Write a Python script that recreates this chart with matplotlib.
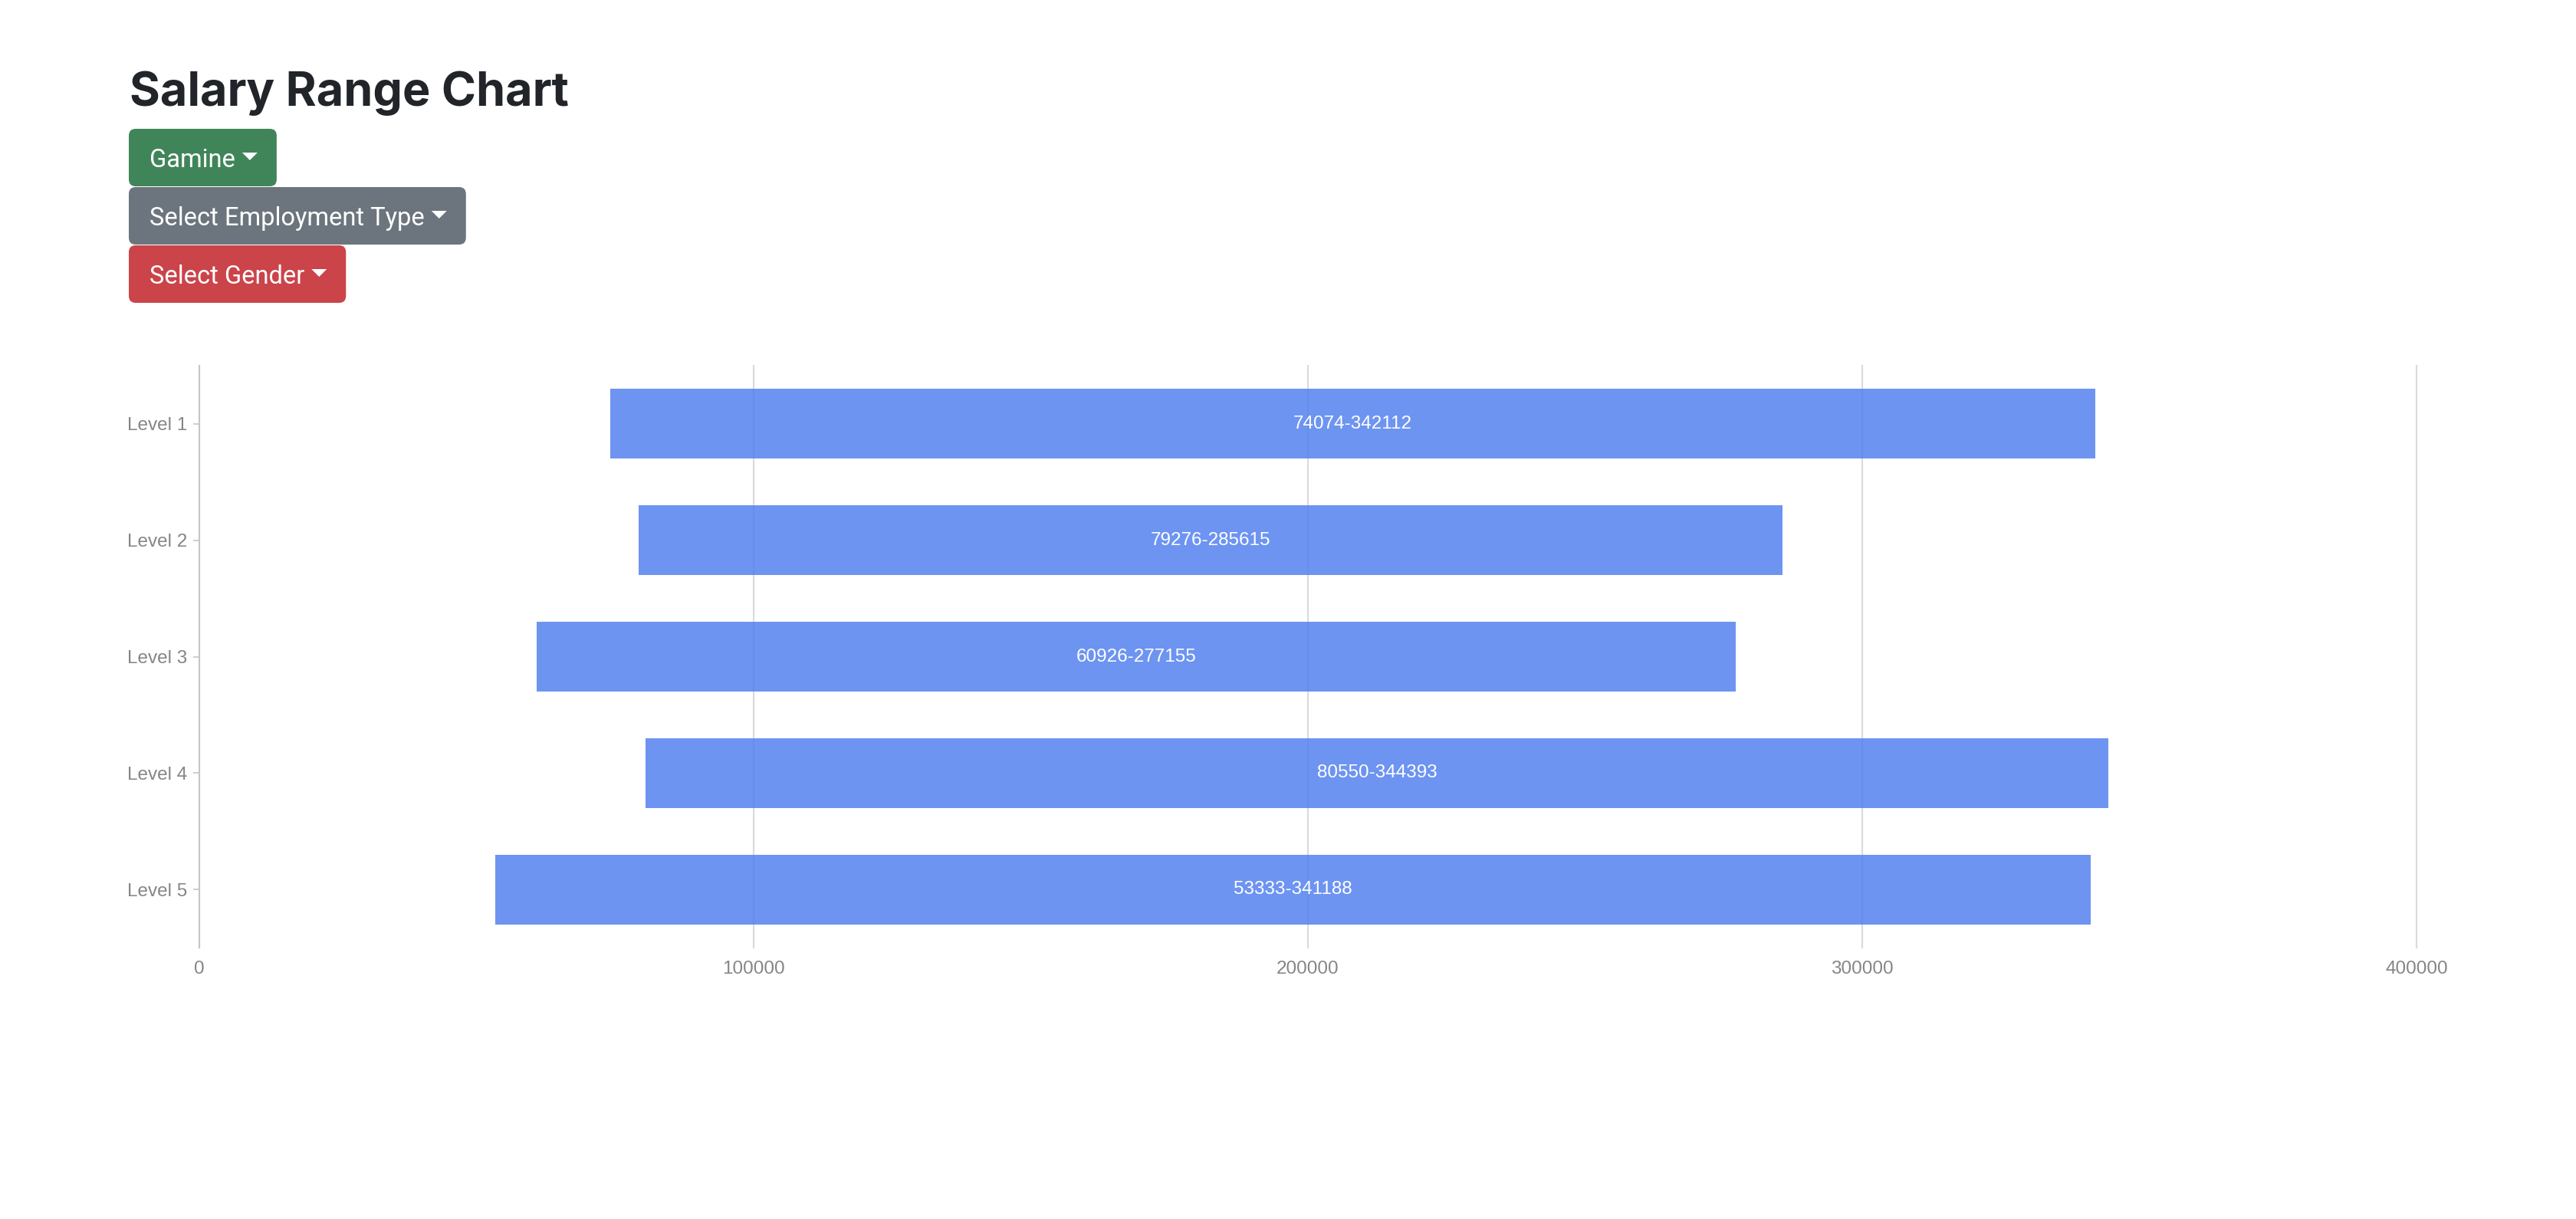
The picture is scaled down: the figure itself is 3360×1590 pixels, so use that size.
import numpy as np
import matplotlib
matplotlib.use("Agg")
import matplotlib.pyplot as plt
from matplotlib.patches import FancyBboxPatch, Polygon

# data
levels = ["Level 1", "Level 2", "Level 3", "Level 4", "Level 5"]
salary_min = [74074, 79276, 60926, 80550, 53333]
salary_max = [342112, 285615, 277155, 344393, 341188]
x_ticks = [0, 100000, 200000, 300000, 400000]

title = "Salary Range Chart"
buttons = ["Gamine", "Select Employment Type", "Select Gender"]
button_colors = ["#408559", "#6c757d", "#cb444a"]

W, H = 3360, 1590
fig = plt.figure(figsize=(W / 100, H / 100), dpi=100)
fig.patch.set_facecolor("white")

# header (title + dropdown buttons), drawn in pixel coords
hdr = fig.add_axes([0, 0, 1, 1])
hdr.set_xlim(0, W)
hdr.set_ylim(H, 0)
hdr.axis("off")

hdr.text(169, 138, title, fontsize=44, fontweight="bold", family="Inter",
         color="#212529", va="baseline", ha="left")

renderer = fig.canvas.get_renderer()
top = 168
for name, col in zip(buttons, button_colors):
    t = hdr.text(195, top + 50, name, fontsize=23.5, family="Roboto",
                 color="white", va="baseline", ha="left", zorder=3)
    bb = t.get_window_extent(renderer)
    cx = bb.x1 + 9
    hdr.add_patch(Polygon([[cx, top + 31], [cx + 20, top + 31], [cx + 10, top + 41]],
                          closed=True, fc="white", ec="none", zorder=3))
    right = cx + 20 + 25
    hdr.add_patch(FancyBboxPatch((168, top), right - 168, 75,
                                 boxstyle="round,pad=0,rounding_size=9",
                                 fc=col, ec="none", zorder=2))
    top += 76

# the chart itself
ax = fig.add_axes([260 / W, 1 - 1236 / H, (3152 - 260) / W, (1236 - 477) / H])
y = np.arange(len(levels))
widths = np.array(salary_max) - np.array(salary_min)
ax.barh(y, widths, left=salary_min, height=0.6,
        color=(83 / 255, 129 / 255, 239 / 255, 0.85), zorder=2)

for i in range(len(levels)):
    ax.text((salary_min[i] + salary_max[i]) / 2, y[i],
            "%d-%d" % (salary_min[i], salary_max[i]),
            ha="center", va="center", color="white", fontsize=17.5,
            family="Liberation Sans", zorder=3)

ax.set_xlim(0, 400000)
ax.set_ylim(len(levels) - 0.5, -0.5)
ax.set_xticks(x_ticks)
ax.set_xticklabels([str(v) for v in x_ticks], family="Liberation Sans")
ax.set_yticks(y)
ax.set_yticklabels(levels, family="Liberation Sans")

ax.grid(axis="x", color="#dadada", linewidth=1.5, zorder=1)
ax.grid(axis="y", visible=False)
ax.set_axisbelow(True)
for gl in ax.get_xgridlines():
    gl.set_clip_on(False)

for s in ["top", "right", "bottom"]:
    ax.spines[s].set_visible(False)
ax.spines["left"].set_color("#c6c6c6")
ax.spines["left"].set_linewidth(1.5)

ax.tick_params(axis="x", length=0, pad=12, labelsize=17.5, labelcolor="#858585")
ax.tick_params(axis="y", length=5.8, width=1.2, color="#c6c6c6", pad=5.8,
               labelsize=17.5, labelcolor="#858585")

fig.savefig("out.png", dpi=100)
